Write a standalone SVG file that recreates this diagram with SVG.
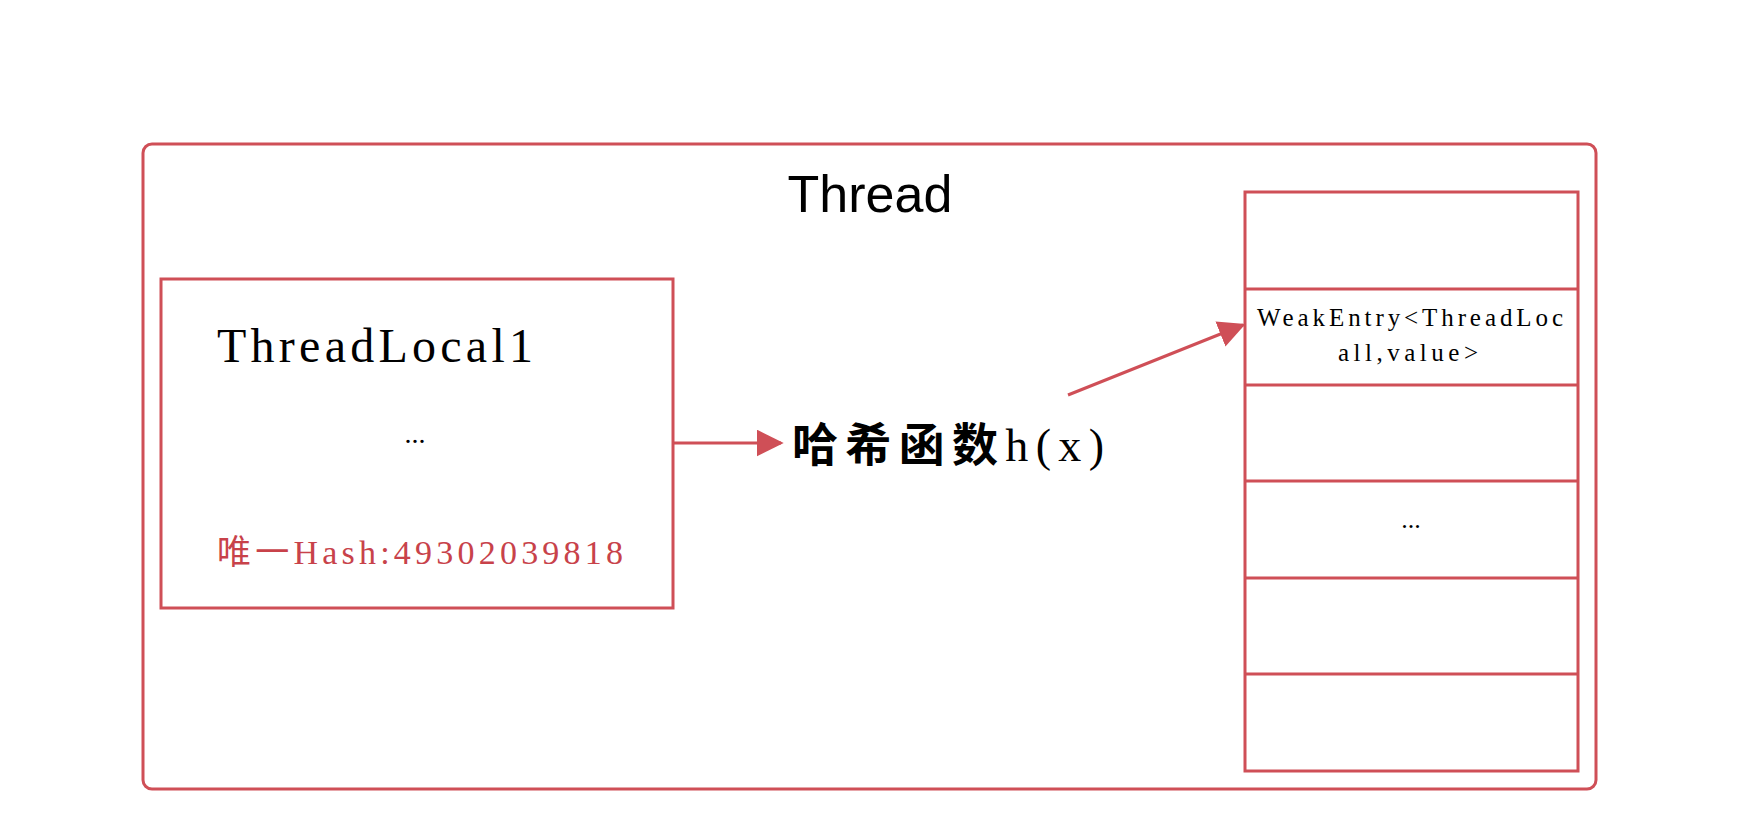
<svg xmlns="http://www.w3.org/2000/svg" width="1756" height="836" viewBox="0 0 1756 836">
<style>
.b{fill:none;stroke:#cf4f57;stroke-width:3}
.s{font-family:"Liberation Serif","Noto Sans CJK SC",serif}
.c{stroke:#cf4f57;stroke-width:3;fill:none}
</style>
<defs><marker id="m" viewBox="0 0 10 10" refX="9" refY="5" markerWidth="9" markerHeight="9" orient="auto"><path d="M0,0L10,5L0,10z" fill="#cf4f57"/></marker></defs>
<rect width="1756" height="836" fill="#fff"/>
<g id="thread"><rect class="b" x="143" y="144" width="1453" height="645" rx="9"/>
<text x="870" y="212" font-family="Liberation Sans,sans-serif" font-size="52" text-anchor="middle">Thread</text></g>
<g id="threadlocal"><rect class="b" x="161" y="279" width="512" height="329"/>
<text class="s" x="217" y="362" font-size="48" textLength="316">ThreadLocal1</text>
<text class="s" x="415" y="443" font-size="28" text-anchor="middle">...</text>
<text class="s" x="217" y="564" font-size="34" fill="#c8424a" textLength="406">唯一Hash:49302039818</text></g>
<g id="hash"><text x="792" y="461" font-family="Liberation Serif,'Noto Sans CJK SC',serif" font-size="46" textLength="312"><tspan font-family="'Noto Sans CJK SC',sans-serif" font-weight="bold">哈希函数</tspan>h(x)</text></g>
<g id="table">
<rect class="b" x="1245" y="192" width="333" height="579"/>
<path class="b" d="M1245 289H1578M1245 385H1578M1245 481H1578M1245 578H1578M1245 674H1578"/>
<text class="s" x="1257" y="326" font-size="25" textLength="306">WeakEntry&lt;ThreadLoc</text>
<text class="s" x="1338" y="361" font-size="25" textLength="140">all,value&gt;</text>
<text class="s" x="1411" y="528" font-size="26" text-anchor="middle">...</text></g>
<g id="connectors">
<line class="c" x1="673" y1="443" x2="781" y2="443" marker-end="url(#m)"/>
<line class="c" x1="1068" y1="395" x2="1243" y2="325" marker-end="url(#m)"/>
</g>
</svg>
